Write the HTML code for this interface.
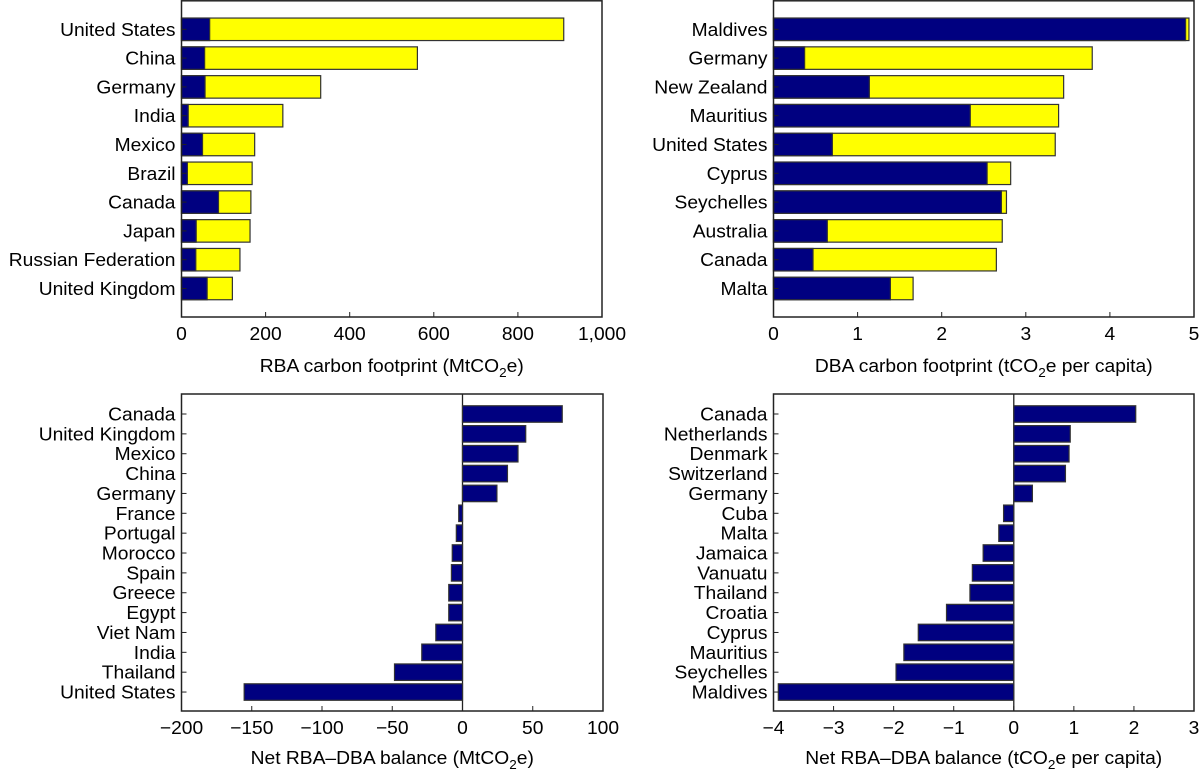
<!DOCTYPE html>
<html><head><meta charset="utf-8"><style>
html,body{margin:0;padding:0;background:#fff;}
svg{display:block;font-family:"Liberation Sans",Arial,sans-serif;}
</style></head><body>
<svg id="fig" width="1200" height="775" viewBox="0 0 1200 775" xmlns="http://www.w3.org/2000/svg"></svg>
<script>
// Panel A: RBA carbon footprint (MtCO2e)
const rbaCountries = ["United States","China","Germany","India","Mexico","Brazil","Canada","Japan","Russian Federation","United Kingdom"];
const rbaBlue = [67,55,56,16,50,14,88,35,34,61];
const rbaTotal = [909,561,331,241,174,168,165,163,139,121];
const rbaTicks = [0,200,400,600,800,1000];
const rbaTickLabels = ["0","200","400","600","800","1,000"];
// Panel B: DBA carbon footprint (tCO2e per capita)
const dbaCountries = ["Maldives","Germany","New Zealand","Mauritius","United States","Cyprus","Seychelles","Australia","Canada","Malta"];
const dbaBlue = [4.9,0.37,1.14,2.34,0.70,2.54,2.71,0.64,0.47,1.39];
const dbaTotal = [4.94,3.79,3.45,3.39,3.35,2.82,2.77,2.72,2.65,1.66];
const dbaTicks = [0,1,2,3,4,5];
const dbaTickLabels = ["0","1","2","3","4","5"];
// Panel C: Net RBA-DBA balance (MtCO2e)
const netCountries = ["Canada","United Kingdom","Mexico","China","Germany","France","Portugal","Morocco","Spain","Greece","Egypt","Viet Nam","India","Thailand","United States"];
const netValues = [71,45,39.5,32,24.5,-2.7,-4.4,-7.3,-7.9,-9.8,-9.8,-19,-29,-48.4,-155.4];
const netTicks = [-200,-150,-100,-50,0,50,100];
const netTickLabels = ["\u2212200","\u2212150","\u2212100","\u221250","0","50","100"];
// Panel D: Net RBA-DBA balance (tCO2e per capita)
const netPcCountries = ["Canada","Netherlands","Denmark","Switzerland","Germany","Cuba","Malta","Jamaica","Vanuatu","Thailand","Croatia","Cyprus","Mauritius","Seychelles","Maldives"];
const netPcValues = [2.03,0.94,0.92,0.86,0.31,-0.17,-0.25,-0.51,-0.69,-0.73,-1.12,-1.59,-1.83,-1.96,-3.92];
const netPcTicks = [-4,-3,-2,-1,0,1,2,3];
const netPcTickLabels = ["\u22124","\u22123","\u22122","\u22121","0","1","2","3"];

const NS="http://www.w3.org/2000/svg";
const svg=document.getElementById('fig');
function mk(tag,attrs,parent){const e=document.createElementNS(NS,tag);for(const k in attrs)e.setAttribute(k,attrs[k]);(parent||svg).appendChild(e);return e;}
const NAVY="#000080",YEL="#ffff00",STROKE="#333";
const FS=18.5, SX=1.04;
function txt(g,s,x,y,anchor){
  const t=mk('text',{transform:`translate(${x},${y}) scale(${SX},1)`,'text-anchor':anchor,'font-size':FS,fill:'#000'},g);
  t.textContent=s;return t;
}
function axisText(g,parts,cx,y){
  const t=mk('text',{transform:`translate(${cx},${y}) scale(${SX},1)`,'text-anchor':'middle','font-size':FS,fill:'#000'},g);
  parts.forEach(p=>{const ts=mk('tspan',p.sub?{'font-size':13,dy:5}:(p.after?{dy:-5}:{}),t);ts.textContent=p.t;});
  return t;
}
function panel(o){
  const g=mk('g',{});
  
  
  const {x0,x1,y0,y1,dmin,dmax}=o;
  const sx=v=>x0+(v-dmin)/(dmax-dmin)*(x1-x0);
  const n=o.cats.length;
  const sy=i=>o.rowFirst+i*o.rowStep;
  if(dmin<0){const zl=mk('line',{x1:sx(0),x2:sx(0),y1:y0,y2:y1,stroke:'#222','stroke-width':1.3},g);
    }
  for(let i=0;i<n;i++){
    const cy=sy(i),h=o.barH;
    if(o.blue&&o.total){
      const rb=mk('rect',{x:sx(0),y:cy-h/2,width:sx(o.total[i])-sx(0),height:h,fill:YEL,stroke:STROKE,'stroke-width':1.2},g);
      
      
      const r=mk('rect',{x:sx(0),y:cy-h/2,width:sx(o.blue[i])-sx(0),height:h,fill:NAVY,stroke:STROKE,'stroke-width':1.2},g);
      
      
    } else {
      const v=o.values[i];const a=Math.min(sx(0),sx(v)),w=Math.abs(sx(v)-sx(0));
      const r=mk('rect',{x:a,y:cy-h/2,width:w,height:h,fill:NAVY,stroke:STROKE,'stroke-width':1.2},g);
      
      
    }
    const tk=mk('line',{x1:x0,x2:x0+5,y1:cy,y2:cy,stroke:'#222','stroke-width':1},g);
    
    const lb=txt(g,o.cats[i],x0-6,cy+6.5,'end');
    
  }
  const fr=mk('rect',{x:x0,y:y0,width:x1-x0,height:y1-y0,fill:'none',stroke:'#222','stroke-width':1.5},g);
  
  o.ticks.forEach((t,j)=>{
    const X=sx(t);
    const l=mk('line',{x1:X,x2:X,y1:y1,y2:y1-5,stroke:'#222','stroke-width':1},g);
    
    const tl=txt(g,o.tickLabels[j],X,y1+23,'middle');
    
  });
  const at=axisText(g,o.title,(x0+x1)/2,o.titleY);
  
}
panel({name:'rba-panel',x0:181.5,x1:602,y0:0.8,y1:317,dmin:0,dmax:1000,cats:rbaCountries,blue:rbaBlue,total:rbaTotal,
  rowFirst:29.3,rowStep:28.8,barH:22.5,ticks:rbaTicks,tickLabels:rbaTickLabels,titleY:372,
  title:[{t:"RBA carbon footprint (MtCO"},{t:"2",sub:true},{t:"e)",after:true}]});
panel({name:'dba-panel',x0:773.5,x1:1194,y0:0.8,y1:317,dmin:0,dmax:5,cats:dbaCountries,blue:dbaBlue,total:dbaTotal,
  rowFirst:29.3,rowStep:28.8,barH:22.5,ticks:dbaTicks,tickLabels:dbaTickLabels,titleY:372,
  title:[{t:"DBA carbon footprint (tCO"},{t:"2",sub:true},{t:"e per capita)",after:true}]});
panel({name:'net-total-panel',x0:181.5,x1:603,y0:394,y1:711,dmin:-200,dmax:100,cats:netCountries,values:netValues,
  rowFirst:414,rowStep:19.86,barH:16.5,ticks:netTicks,tickLabels:netTickLabels,titleY:764,
  title:[{t:"Net RBA\u2013DBA balance (MtCO"},{t:"2",sub:true},{t:"e)",after:true}]});
panel({name:'net-per-capita-panel',x0:773.5,x1:1194,y0:394,y1:711,dmin:-4,dmax:3,cats:netPcCountries,values:netPcValues,
  rowFirst:414,rowStep:19.86,barH:16.5,ticks:netPcTicks,tickLabels:netPcTickLabels,titleY:764,
  title:[{t:"Net RBA\u2013DBA balance (tCO"},{t:"2",sub:true},{t:"e per capita)",after:true}]});
</script>
</body></html>
